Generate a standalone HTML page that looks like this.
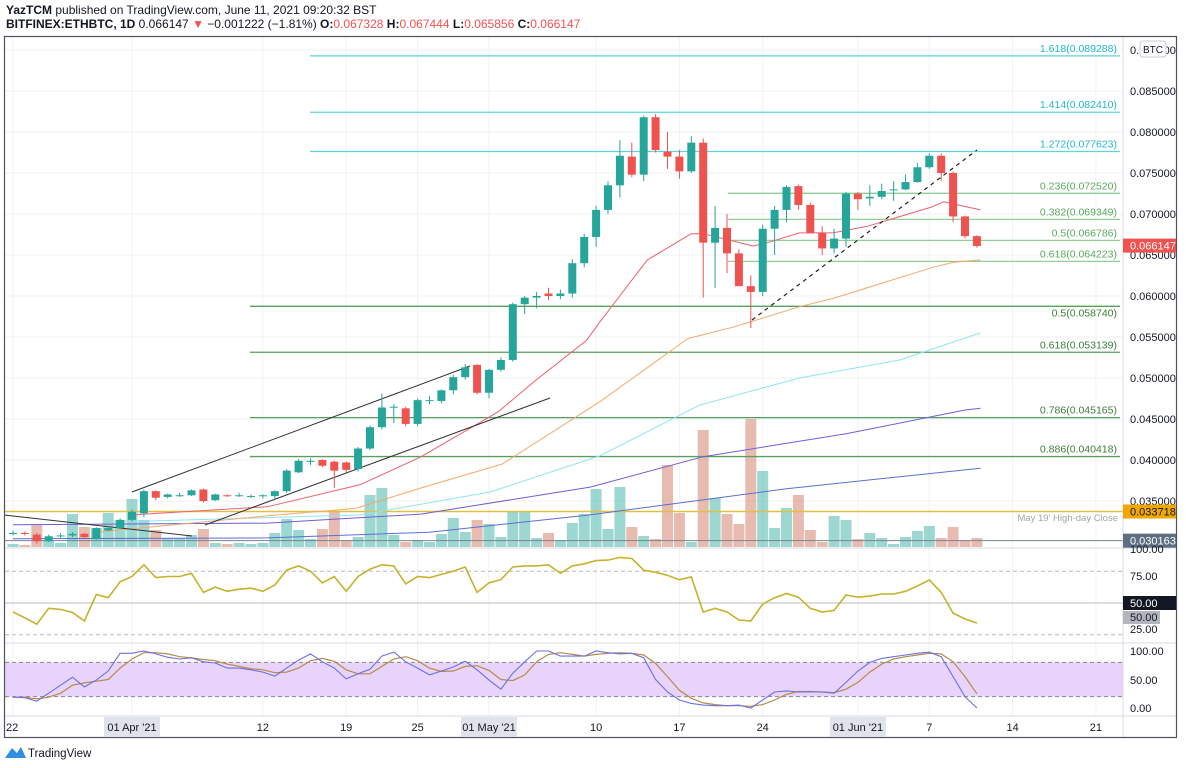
<!DOCTYPE html>
<html><head><meta charset="utf-8">
<style>
body{margin:0;background:#fff;width:1186px;height:768px;overflow:hidden;font-family:"Liberation Sans",sans-serif;}
#hdr{position:absolute;left:6px;top:3px;font-size:12px;color:#131722;line-height:14px;}
#hdr b{font-weight:bold}
.r{color:#ef5350}
svg{position:absolute;left:0;top:0}
</style></head><body>
<div id="hdr">
<div><b>YazTCM</b> published on TradingView.com, June 11, 2021 09:20:32 BST</div>
<div><b>BITFINEX:ETHBTC, 1D</b> 0.066147 <span class="r">▼</span> −0.001222 (−1.81%) <b>O:</b><span class="r">0.067328</span> <b>H:</b><span class="r">0.067444</span> <b>L:</b><span class="r">0.065856</span> <b>C:</b><span class="r">0.066147</span></div>
</div>
<svg id="c" width="1186" height="768" xmlns="http://www.w3.org/2000/svg"></svg>
<script>
const opens=[.0311,.0311,.0309,.0301,.0308,.0308,.0310,.0304,.0314,.0317,.0327,.0335,.0362,.0355,.0357,.0357,.0364,.0351,.0357,.0356,.0356,.0356,.0356,.0362,.0385,.0398,.0400,.0398,.0397,.0389,.0414,.0440,.0464,.0463,.0444,.0472,.0472,.0485,.0501,.0516,.0482,.0510,.0522,.0590,.0598,.0603,.0600,.0603,.0640,.0672,.0705,.0735,.0770,.0748,.0818,.0776,.0770,.0752,.0787,.0665,.0683,.0652,.0612,.0605,.0682,.0705,.0734,.0711,.0677,.0658,.0670,.0725,.0719,.0721,.0729,.0730,.0739,.0757,.0771,.0750,.0697,.0673];
const highs=[.0314,.0313,.0311,.0309,.0311,.0312,.0311,.0318,.0319,.0329,.0340,.0364,.0363,.0359,.0360,.0364,.0365,.0359,.0358,.0360,.0358,.0358,.0363,.0389,.0401,.0402,.0401,.0399,.0398,.0416,.0442,.0481,.0468,.0465,.0475,.0478,.0486,.0504,.0517,.0517,.0511,.0525,.0592,.0600,.0605,.0610,.0608,.0645,.0676,.0710,.0740,.0790,.0787,.0820,.0822,.0800,.0778,.0795,.0792,.0710,.0700,.0657,.0625,.0687,.0710,.0735,.0736,.0714,.0685,.0682,.0727,.0727,.0735,.0737,.0740,.0748,.0762,.0774,.0774,.0752,.0698,.0674];
const lows=[.0308,.0308,.0298,.0300,.0305,.0306,.0305,.0303,.0313,.0316,.0325,.0330,.0351,.0353,.0355,.0356,.0348,.0350,.0355,.0355,.0354,.0353,.0352,.0360,.0384,.0394,.0391,.0366,.0385,.0386,.0412,.0437,.0445,.0441,.0441,.0468,.0469,.0480,.0498,.0480,.0475,.0508,.0520,.0578,.0585,.0595,.0596,.0598,.0635,.0660,.0700,.0720,.0745,.0740,.0775,.0755,.0743,.0750,.0598,.0610,.0628,.0615,.0561,.0600,.0650,.0690,.0705,.0677,.0650,.0652,.0660,.0705,.0710,.0718,.0716,.0729,.0738,.0755,.0740,.0690,.0670,.0659];
const closes=[.0311,.0310,.0301,.0307,.0308,.0310,.0306,.0317,.0317,.0327,.0337,.0362,.0354,.0358,.0357,.0363,.0350,.0358,.0356,.0357,.0356,.0357,.0362,.0387,.0399,.0399,.0393,.0387,.0388,.0414,.0440,.0464,.0465,.0444,.0473,.0473,.0485,.0501,.0513,.0482,.0510,.0522,.0590,.0598,.0600,.0600,.0603,.0640,.0672,.0705,.0735,.0771,.0748,.0818,.0778,.0770,.0752,.0787,.0665,.0683,.0652,.0612,.0605,.0682,.0705,.0733,.0711,.0677,.0658,.0670,.0725,.0718,.0721,.0728,.0730,.0739,.0757,.0771,.0750,.0697,.0673,.0661];
const volumes=[3,2,22,7,4,33,20,19,34,27,48,27,17,9,9,12,18,4,3,4,3,4,14,28,17,8,18,35,6,10,52,59,12,5,7,5,13,29,15,27,23,10,36,35,9,14,7,24,33,58,18,60,20,11,8,82,34,5,117,49,33,23,128,76,19,39,52,17,5,31,27,8,14,9,3,10,16,21,9,20,7,9];
const rsi=[41.5,36,30,45,44,41,33,58,55,70,75,86,74,75,75,78,60,65,61,63,64,61,67,81,85,80,69,75,61,75,82,86,85,68,75,74,77,80,84,60,69,72,84,85,85,86,78,85,87,90,90.5,93,92,81,79,76,72,74.5,41.5,45,41.5,34,33,49,55,59,55.5,45,41.5,43,57.5,55.5,56.5,58.5,58.5,61,66,71.7,60,40.5,35,31];
const stochK=[19,18,12,26,40,54,37,49,65,96,96,100,95,89,86,88,81,79,70,70,67,63,56,70,84,95,81,70,51,60,68,91,98,81,70,58,65,72,82,67,49,33,61,81,100,100,91,91,91,100,97,95,96,88,50,28,14,8,5,4,4,5,0,14,28,30,28,28,28,26,45,65,80,87,90,93,96,98,90,55,20,0];
const stochD=[19,19,16,19,26,40,44,47,50,70,86,97,97,95,90,88,85,83,77,73,69,67,62,63,70,83,87,82,67,60,60,73,86,90,83,70,64,65,73,74,66,50,48,58,81,94,97,94,91,94,96,97,96,93,78,55,31,17,9,6,4,4,3,6,14,24,29,29,28,27,33,45,63,77,86,90,93,96,95,81,55,25];
// moving averages sampled: [dayIndex, price]
const ma20=[[10,.0333],[21.4,.0343],[29.2,.0370],[34.3,.0404],[38.2,.0437],[40.8,.0459],[44,.0498],[48.2,.0546],[49.3,.0568],[53.3,.0644],[57,.0676],[58,.0676],[62.2,.0661],[63.4,.0665],[66.1,.0677],[68.9,.0677],[71.8,.0685],[77.3,.0709],[78.2,.0715],[81.3,.0705]];
const ma50=[[7,.0312],[21.4,.0332],[28.8,.0341],[34.3,.0366],[41.1,.0395],[49.3,.0471],[56.7,.0548],[60.5,.0562],[66.1,.0587],[68.9,.0597],[73.1,.0616],[77.3,.0635],[79,.0641],[81.3,.0644]];
const ma100=[[10,.0325],[29.2,.0333],[40.1,.0361],[49.3,.0405],[57.7,.0467],[66.1,.0500],[74.5,.0522],[81.3,.0555]];
const ma200=[[0,.0321],[21.4,.0323],[34.3,.0334],[48.5,.0367],[58,.0404],[70,.0432],[80,.0461],[81.3,.0463]];
const maLow=[[0,.0304],[21.4,.0305],[35,.0312],[48.5,.0333],[65,.0365],[81.3,.0390]];
const priceTicks=[0.090,0.085,0.080,0.075,0.070,0.065,0.060,0.055,0.050,0.045,0.040,0.035];
const timeTicks=[[0,"22",0],[10,"01 Apr '21",1],[21,"12",0],[28,"19",0],[34,"25",0],[40,"01 May '21",1],[49,"10",0],[56,"17",0],[63,"24",0],[71,"01 Jun '21",1],[77,"7",0],[84,"14",0],[91,"21",0]];
const fibs=[[0.089288,"1.618",310,"#5fd3dc","#22b8cc"],[0.082410,"1.414",310,"#5fd3dc","#22b8cc"],[0.077623,"1.272",310,"#5fd3dc","#22b8cc"],[0.072520,"0.236",728,"#8fcf95","#5aaa5e"],[0.069349,"0.382",728,"#8fcf95","#5aaa5e"],[0.066786,"0.5",728,"#8fcf95","#5aaa5e"],[0.064223,"0.618",728,"#8fcf95","#5aaa5e"],[0.058740,"0.5",250,"#5a9e5c","#3f7d3a"],[0.053139,"0.618",250,"#5a9e5c","#3f7d3a"],[0.045165,"0.786",250,"#5a9e5c","#3f7d3a"],[0.040418,"0.886",250,"#5a9e5c","#3f7d3a"]];

const svg=document.getElementById('c');const NS="http://www.w3.org/2000/svg";
function el(t,a,p){const e=document.createElementNS(NS,t);for(const k in a)e.setAttribute(k,a[k]);(p||svg).appendChild(e);return e;}
function X(d){return 13+d*11.9;}
function Y(p){return 173+(0.075-p)*8200;}
function RY(v){return 603-(v-50)*1.06;}
function SY(v){return 708-v*0.57;}
const R=1123;
for(const t of priceTicks){const g=el('line',{x1:5,x2:R,y1:Y(t),y2:Y(t),stroke:'#f0f2f6'});}
for(const t of timeTicks){const g=el('line',{x1:X(t[0]),x2:X(t[0]),y1:37,y2:716,stroke:'#f0f2f6'});}
for(let i=0;i<volumes.length;i++){const up=closes[i]>=opens[i];const b=el('rect',{x:X(i)-5.5,y:547-volumes[i],width:11,height:volumes[i],fill:up?'rgba(38,166,154,0.45)':'rgba(210,120,100,0.5)'});}
{const l=el('line',{x1:5,x2:R,y1:Y(0.033718),y2:Y(0.033718),stroke:'#e0c040','stroke-width':1.5});
const l2=el('line',{x1:5,x2:R,y1:Y(0.030163),y2:Y(0.030163),stroke:'#7a8592','stroke-width':1});
const t=el('text',{x:1118,y:521,'text-anchor':'end','font-size':9.5,fill:'#a0a4ad'});t.textContent="May 19' High-day Close";}
for(const f of fibs){const y=Y(f[0]);const l=el('line',{x1:f[2],x2:R-3,y1:y,y2:y,stroke:f[3],'stroke-width':1.3});
const t=el('text',{x:1117,y:y+(f[0]===0.058740?10:-4),'text-anchor':'end','font-size':10.5,fill:f[4]});t.textContent=f[1]+"("+f[0].toFixed(6)+")";}
function ma(arr,col,name){const pts=arr.map(a=>X(a[0]).toFixed(1)+','+Y(a[1]).toFixed(1)).join(' ');const p=el('polyline',{points:pts,fill:'none',stroke:col,'stroke-width':1,'stroke-linejoin':'round'});}
ma(maLow,'#5a6fd0','ma-line-long');ma(ma200,'#6c5fd8','ma-200-line');ma(ma100,'#8fe4f4','ma-100-line');ma(ma50,'#f6a86a','ma-50-line');ma(ma20,'#ef6070','ma-20-line');
{const a=[[132,492,470,366],[205,525,550,398],[4,515,192,536]];for(const s of a){const l=el('line',{x1:s[0],y1:s[1],x2:s[2],y2:s[3],stroke:'#333','stroke-width':1});}
const d=el('line',{x1:752,y1:320,x2:977,y2:150,stroke:'#222','stroke-width':1.2,'stroke-dasharray':'4,4'});}
for(let i=0;i<opens.length;i++){const up=closes[i]>=opens[i];const c=up?'#26a69a':'#ef5350';const g=el('g',{});
el('line',{x1:X(i),x2:X(i),y1:Y(highs[i]),y2:Y(lows[i]),stroke:c,'stroke-width':1},g);
const t=Math.min(Y(opens[i]),Y(closes[i]));el('rect',{x:X(i)-4,y:t,width:8,height:Math.max(1,Math.abs(Y(opens[i])-Y(closes[i]))),fill:c},g);}
el('line',{x1:5,x2:1176,y1:548,y2:548,stroke:'#d8dbe2'});el('line',{x1:5,x2:1176,y1:643,y2:643,stroke:'#d8dbe2'});
for(const v of [80,20]){el('line',{x1:5,x2:R,y1:RY(v),y2:RY(v),stroke:'#b8bbc2','stroke-dasharray':'4,3'});}
el('line',{x1:5,x2:R,y1:RY(50),y2:RY(50),stroke:'#b8bbc2'});
{const p=el('polyline',{points:rsi.map((v,i)=>X(i).toFixed(1)+','+RY(v).toFixed(1)).join(' '),fill:'none',stroke:'#c6b22c','stroke-width':1.6});}
{const b=el('rect',{x:5,y:SY(80),width:R-5,height:SY(20)-SY(80),fill:'#e8d3fb'});}
for(const v of [80,20]){el('line',{x1:5,x2:R,y1:SY(v),y2:SY(v),stroke:'#888','stroke-dasharray':'4,3'});}
{const p=el('polyline',{points:stochD.map((v,i)=>X(i).toFixed(1)+','+SY(v).toFixed(1)).join(' '),fill:'none',stroke:'#b88a4a','stroke-width':1.2});
const q=el('polyline',{points:stochK.map((v,i)=>X(i).toFixed(1)+','+SY(v).toFixed(1)).join(' '),fill:'none',stroke:'#6a70e8','stroke-width':1.1});}
el('line',{x1:5,x2:1176,y1:716,y2:716,stroke:'#d8dbe2'});
el('line',{x1:R,x2:R,y1:37,y2:737,stroke:'#d8dbe2'});
el('rect',{x:4.5,y:36.5,width:1172,height:701,fill:'none',stroke:'#50535e','stroke-width':1.2});
for(const t of priceTicks){const s=el('text',{x:1130,y:Y(t)+4,'font-size':11,fill:'#131722'});s.textContent=t.toFixed(6);}
{const b=el('rect',{x:1140,y:41,width:26,height:16,rx:3,fill:'#fff',stroke:'#c8cbd2'});const t=el('text',{x:1153,y:53,'text-anchor':'middle','font-size':10,fill:'#131722'});t.textContent='BTC';}
function tag(y,txt,bg,fg,name){const g=el('g',{});el('rect',{x:1123,y:y-7,width:53,height:14,fill:bg},g);const t=el('text',{x:1130,y:y+4,'font-size':11,fill:fg},g);t.textContent=txt;}
tag(Y(0.066147),'0.066147','#ef5350','#fff','last-price-tag');
tag(Y(0.033718),'0.033718','#f0a800','#131722','level-price-tag');
tag(Y(0.030163),'0.030163','#5d6f82','#fff','support-price-tag');
for(const v of [[100,549],[75,576],[25,629]]){const t=el('text',{x:1130,y:v[1]+4,'font-size':11,fill:'#131722'});t.textContent=v[0].toFixed(2);}
tag(603,'50.00','#131722','#fff','rsi-value-tag');
{const g=el('g',{});el('rect',{x:1123,y:611,width:37,height:13,fill:'#b2b5be'},g);const t=el('text',{x:1130,y:621,'font-size':11,fill:'#131722'},g);t.textContent='50.00';}
for(const v of [[100,651],[50,680],[0,708]]){const t=el('text',{x:1130,y:v[1]+4,'font-size':11,fill:'#131722'});t.textContent=v[0].toFixed(2);}
for(const t of timeTicks){const x=X(t[0]);if(t[2]){const b=el('rect',{x:x-28,y:717,width:56,height:20,fill:'#e0e3eb'});}
const s=el('text',{x:t[0]===0?6:x,y:731,'text-anchor':t[0]===0?'start':'middle','font-size':11,fill:'#131722'});s.textContent=t[1];}
{const g=el('g',{});
el('path',{d:'M5 758 L12 748 L17 753 L21 747 L26 758 Z',fill:'#2f8ee0'},g);
const t=el('text',{x:28,y:757,'font-size':11.5,fill:'#131722'},g);t.textContent='TradingView';}
</script>
</body></html>
